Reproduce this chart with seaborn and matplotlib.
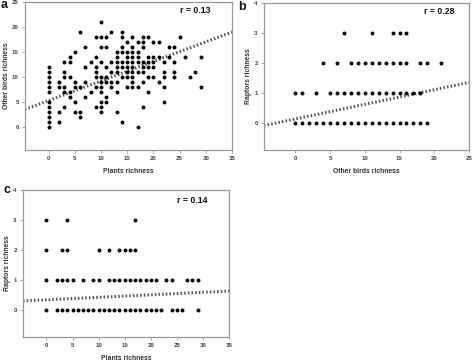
import matplotlib
matplotlib.use("Agg")
import matplotlib.pyplot as plt
import seaborn as sns
import numpy as np
import pandas as pd

# ---- Panel a: plants richness (x) vs other birds richness (y), grouped by x ----
a_columns = {
    0: [0, 1, 2, 3, 4, 5, 7, 8, 9, 10, 11, 12],
    2: [1, 3, 8, 9],
    3: [4, 7, 8, 10, 11, 13],
    4: [6, 7, 10, 13, 14],
    5: [3, 5, 8, 9, 15],
    6: [2, 3, 8, 19],
    7: [6, 9, 12, 16],
    8: [7, 13],
    9: [4, 8, 10, 11, 12, 14, 18],
    10: [3, 4, 5, 7, 8, 9, 10, 13, 16, 18, 21],
    11: [5, 6, 9, 10, 12, 16, 18],
    12: [8, 9, 11, 13, 19],
    13: [3, 7, 9, 11, 12, 13, 14, 15],
    14: [1, 10, 12, 13, 15, 16, 18, 19],
    15: [8, 10, 11, 12, 13, 14, 15, 17],
    16: [8, 9, 10, 11, 12, 13, 14, 15, 16, 18],
    17: [0, 8, 11, 13, 14, 15, 17],
    18: [4, 9, 11, 12, 13, 16, 17, 18],
    19: [7, 10, 12, 13, 14, 18],
    20: [10, 12, 13, 14, 17],
    21: [9, 14, 17],
    22: [5, 8, 10, 11, 13],
    23: [14, 16],
    24: [10, 11, 13, 16],
    25: [18],
    26: [14],
    27: [10],
    28: [11],
    29: [8, 14],
}
a_fit = (5.35, 0.39)      # intercept, slope
a_r = "r = 0.13"

# ---- Panel b: other birds richness (x) vs raptors richness (y), grouped by y ----
b_rows = {
    3: [7, 11, 14, 15, 16],
    2: [4, 6, 8, 9, 10, 11, 12, 13, 14, 15, 16, 18, 19, 21],
    1: [0, 1, 3, 5, 6, 7, 8, 9, 10, 11, 12, 13, 14, 15, 16, 17, 18],
    0: [0, 1, 2, 3, 4, 5, 6, 7, 8, 9, 10, 11, 12, 13, 14, 15, 16, 17, 18, 19],
}
b_fit = (0.134, 0.0487)
b_r = "r = 0.28"

# ---- Panel c: plants richness (x) vs raptors richness (y), grouped by y ----
c_rows = {
    3: [0, 4, 17],
    2: [0, 3, 4, 10, 12, 14, 15, 16, 17],
    1: [0, 2, 3, 4, 5, 7, 9, 10, 12, 13, 14, 15, 16, 17, 18, 19, 20, 21, 23, 24, 27, 28, 29],
    0: [0, 2, 3, 4, 5, 6, 7, 8, 9, 10, 11, 12, 13, 14, 15, 16, 17, 18, 19, 20, 21, 22, 24, 25, 26, 29],
}
c_fit = (0.34, 0.0083)
c_r = "r = 0.14"

x_ticks_plants = [0, 5, 10, 15, 20, 25, 30, 35]
y_ticks_birds = [0, 5, 10, 15, 20, 25]
x_ticks_birds = [0, 5, 10, 15, 20, 25]
y_ticks_raptors = [0, 1, 2, 3, 4]

df_a = pd.DataFrame([(x, y) for x, ys in a_columns.items() for y in ys], columns=["x", "y"])
df_b = pd.DataFrame([(x, y) for y, xs in b_rows.items() for x in xs], columns=["x", "y"])
df_c = pd.DataFrame([(x, y) for y, xs in c_rows.items() for x in xs], columns=["x", "y"])

sns.set_theme(style="white")
plt.rcParams["font.family"] = ["Liberation Sans", "DejaVu Sans"]

fig = plt.figure(figsize=(4.74, 3.63), dpi=100)
W, H = 474, 363

def axes_px(l, t, r, b):
    return fig.add_axes([l / W, 1 - b / H, (r - l) / W, (b - t) / H])

ax_a = axes_px(25, 2, 232, 150)
ax_b = axes_px(264, 3, 469, 150)
ax_c = axes_px(23, 190, 229, 337)

spine_col = "#9a9a9a"
tick_col = "#444444"
lab_col = "#333333"

def style(ax, df, fit, rtxt, xlim, ylim, xticks, yticks, xlabel, ylabel, rpos, letter, letter_pos):
    sns.scatterplot(data=df, x="x", y="y", ax=ax, color="black", s=8, linewidth=0, zorder=3)
    xs = np.array(xlim, dtype=float)
    line_df = pd.DataFrame({"x": xs, "y": fit[0] + fit[1] * xs})
    sns.lineplot(data=line_df, x="x", y="y", ax=ax, color="#555555", lw=2.2,
                 linestyle=(0, (0.5, 0.7)), zorder=2)
    ax.set_xlim(*xlim)
    ax.set_ylim(*ylim)
    ax.set_xticks(xticks)
    ax.set_yticks(yticks)
    ax.set_xticklabels([str(t) for t in xticks], fontsize=4.4, fontweight="bold", color=tick_col)
    ax.set_yticklabels([str(t) for t in yticks], fontsize=4.4, fontweight="bold", color=tick_col)
    ax.tick_params(axis="both", which="both", direction="out", length=2.5, width=0.6,
                   color=spine_col, pad=2, bottom=True, left=True, top=False, right=False)
    for sp in ax.spines.values():
        sp.set_color(spine_col)
        sp.set_linewidth(0.9)
        sp.set_visible(True)
    ax.set_xlabel(xlabel, fontsize=4.9, fontweight="bold", color=lab_col, labelpad=5)
    ax.set_ylabel(ylabel, fontsize=4.9, fontweight="bold", color=lab_col, labelpad=1.5)
    ax.text(rpos[0], rpos[1], rtxt, transform=ax.transAxes, ha="right", va="center",
            fontsize=6.3, fontweight="bold", color="#111111")
    fig.text(letter_pos[0] / W, 1 - letter_pos[1] / H, letter, ha="left", va="center",
             fontsize=9, fontweight="bold", color="#111111")

style(ax_a, df_a, a_fit, a_r, (-4.5, 35), (-4.5, 25), x_ticks_plants, y_ticks_birds,
      "Plants richness", "Other birds richness", (0.894, 0.94), "a", (1, 5))
style(ax_b, df_b, b_fit, b_r, (-4.5, 25), (-0.9, 4), x_ticks_birds, y_ticks_raptors,
      "Other birds richness", "Raptors richness", (0.927, 0.945), "b", (238, 7))
style(ax_c, df_c, c_fit, c_r, (-4.5, 35), (-0.9, 4), x_ticks_plants, y_ticks_raptors,
      "Plants richness", "Raptors richness", (0.898, 0.93), "c", (3, 190))

fig.savefig("out.png", dpi=100)
